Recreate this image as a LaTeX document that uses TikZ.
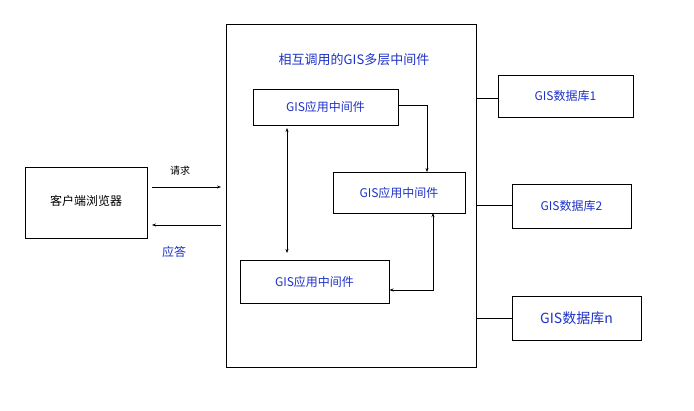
\documentclass[tikz,border=0pt]{standalone}
\usepackage{fontspec}
\setmainfont{Noto Sans CJK SC}
\usetikzlibrary{arrows.meta}
\begin{document}
\begin{tikzpicture}[x=1pt,y=-1pt,
  box/.style={draw,line width=0.6pt,inner sep=0pt},
  bt/.style={text=txtblue,font=\fontsize{12}{14}\selectfont},
  arr/.style={-{Stealth[length=4pt,width=3pt]},line width=0.6pt},
  ln/.style={line width=0.6pt}]
\definecolor{txtblue}{RGB}{30,50,200}
\useasboundingbox (0,0) rectangle (694,411);
\fill[white] (0,0) rectangle (694,411);
% client
\draw[box] (25,167) rectangle (147,238);
\node[font=\fontsize{12}{14}\selectfont] (cl) at (86,201) {客户端浏览器};
\coordinate (r1) at (152,187); \coordinate (r2) at (221,187);
\coordinate (a1) at (221,225); \coordinate (a2) at (152,225);
\draw[arr] (r1) -- (r2);
\draw[arr] (a1) -- (a2);
\node[font=\fontsize{10}{12}\selectfont] (qq) at (180,171) {请求};
\node[bt] (yd) at (174,252) {应答};
% big box
\draw[box] (226,24) rectangle (476,367);
\node[bt,font=\fontsize{13}{15}\selectfont] (title) at (354,60) {相互调用的GIS多层中间件};
% middleware
\node[box,bt,minimum width=145pt,minimum height=36pt] (A) at (325.5,107) {GIS应用中间件};
\node[box,bt,minimum width=132pt,minimum height=41pt] (B) at (399,192.5) {GIS应用中间件};
\node[box,bt,minimum width=149pt,minimum height=43pt] (C) at (314.5,281.5) {GIS应用中间件};
\coordinate (v1) at (287,128); \coordinate (v2) at (287,253);
\draw[ln,{Stealth[length=4pt,width=3pt]}-{Stealth[length=4pt,width=3pt]}] (v1) -- (v2);
\coordinate (k1) at (398.5,105); \coordinate (k2) at (427,105); \coordinate (k3) at (427,172);
\draw[arr] (k1) -- (k2) -- (k3);
\coordinate (m1) at (389.5,290); \coordinate (m2) at (433,290); \coordinate (m3) at (433,213);
\draw[ln,{Stealth[length=4pt,width=3pt]}-{Stealth[length=4pt,width=3pt]}] (m1) -- (m2) -- (m3);
% databases
\node[box,bt,minimum width=135pt,minimum height=42pt] (D1) at (565.5,96) {GIS数据库1};
\node[box,bt,minimum width=119pt,minimum height=44pt] (D2) at (571.5,206) {GIS数据库2};
\node[box,bt,font=\fontsize{14}{16}\selectfont,minimum width=129pt,minimum height=44pt] (Dn) at (576.5,318) {GIS数据库n};
\coordinate (l1) at (476,98); \coordinate (l1b) at (498,98);
\coordinate (l2) at (476,205); \coordinate (l2b) at (512,205);
\coordinate (l3) at (476,318);
\draw[ln] (l1) -- (l1b);
\draw[ln] (l2) -- (l2b);
\draw[ln] (l3) -- (Dn.west);
\end{tikzpicture}
\end{document}
